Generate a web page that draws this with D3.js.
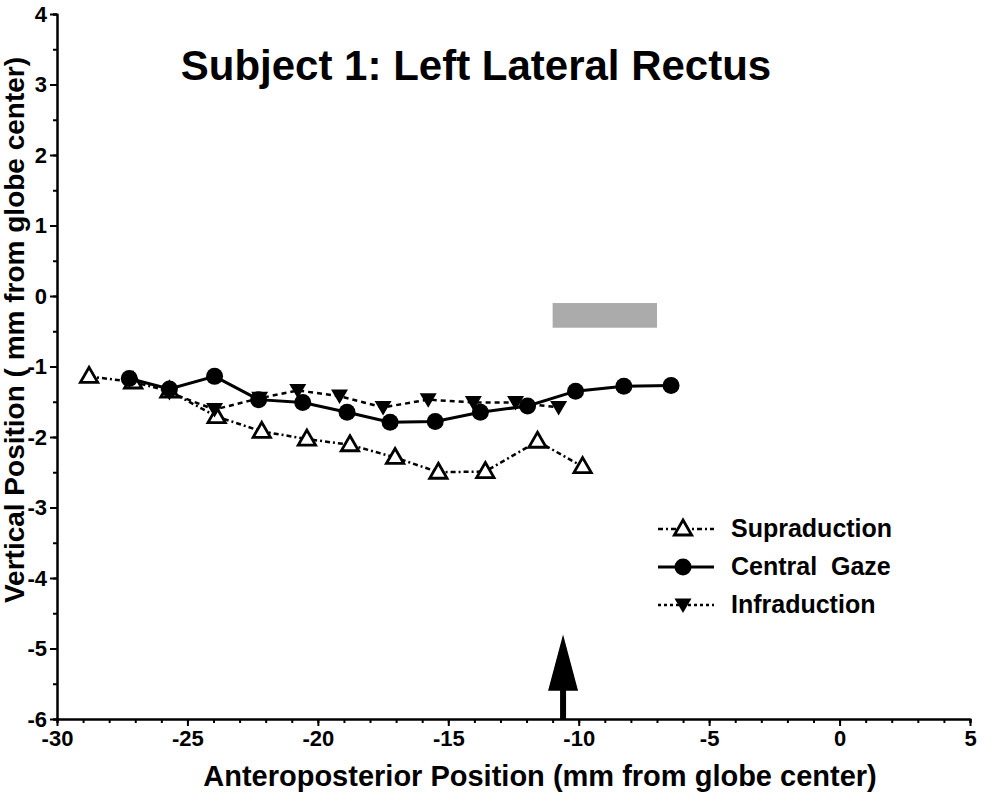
<!DOCTYPE html>
<html>
<head>
<meta charset="utf-8">
<script src="https://cdn.jsdelivr.net/npm/d3@7.9.0/dist/d3.min.js"></script>
<style>
  body { margin: 0; background: #fff; }
  svg { display: block; font-family: "Liberation Sans", Arial, sans-serif; }
  .axis path, .axis line { stroke: #000; stroke-width: 2; }
  .axis text { font-size: 22px !important; font-weight: bold; }
</style>
</head>
<body>
<svg id="chart" width="985" height="795"></svg>
<script>
// values (mm)
const supraX = [-28.77, -27.08, -25.69, -23.88, -22.15, -20.42, -18.77, -17.04, -15.38, -13.58, -11.58, -9.85];
const supraY = [-1.14, -1.22, -1.35, -1.71, -1.92, -2.03, -2.11, -2.29, -2.50, -2.49, -2.06, -2.42];

const centralX = [-27.23, -25.69, -23.96, -22.27, -20.58, -18.88, -17.23, -15.50, -13.77, -11.96, -10.12, -8.27, -6.46];
const centralY = [-1.17, -1.32, -1.14, -1.47, -1.51, -1.65, -1.79, -1.78, -1.65, -1.56, -1.35, -1.28, -1.27];

const infraX = [-25.69, -23.96, -22.23, -20.77, -19.17, -17.50, -15.77, -14.04, -12.42, -10.77];
const infraY = [-1.37, -1.61, -1.45, -1.34, -1.42, -1.58, -1.47, -1.51, -1.51, -1.58];

const xTicks = [-30, -25, -20, -15, -10, -5, 0, 5];
const yTicks = [-6, -5, -4, -3, -2, -1, 0, 1, 2, 3, 4];

// shaded band and arrow position
const bandX = [-11, -7];
const bandY = [-0.1, -0.45];
const arrowX = -10.6;

const svg = d3.select('#chart');

const x = d3.scaleLinear().domain([-30, 5]).range([57, 970]);
const y = d3.scaleLinear().domain([-6, 4]).range([719, 14]);

// plain hyphen as minus, like the original
const fmt = d => String(d);

// minor ticks first
svg.append('g')
  .attr('class', 'axis')
  .attr('transform', `translate(0,${y(-6)})`)
  .call(d3.axisBottom(x).tickValues(d3.range(-30, 5.01, 1)).tickSize(4).tickFormat(''));
svg.append('g')
  .attr('class', 'axis')
  .attr('transform', `translate(${x(-30)},0)`)
  .call(d3.axisLeft(y).tickValues(d3.range(-6, 4.01, 0.5)).tickSize(4).tickFormat(''));

const xAxis = svg.append('g')
  .attr('class', 'axis')
  .attr('transform', `translate(0,${y(-6)})`)
  .call(d3.axisBottom(x).tickValues(xTicks).tickFormat(fmt).tickSize(7).tickSizeOuter(0).tickPadding(4));

const yAxis = svg.append('g')
  .attr('class', 'axis')
  .attr('transform', `translate(${x(-30)},0)`)
  .call(d3.axisLeft(y).tickValues(yTicks).tickFormat(fmt).tickSize(7).tickSizeOuter(0).tickPadding(3));

[xAxis, yAxis].forEach(g => {
  g.attr('font-family', '"Liberation Sans", Arial, sans-serif').attr('font-size', 22);
  g.selectAll('text')
    .attr('font-size', 22)
    .attr('font-weight', 'bold')
    .attr('fill', '#000');
});

// shaded band
svg.append('rect')
  .attr('x', x(bandX[0]))
  .attr('y', y(bandY[0]))
  .attr('width', x(bandX[1]) - x(bandX[0]))
  .attr('height', y(bandY[1]) - y(bandY[0]))
  .attr('fill', '#ababab');

// arrow
const ax = x(arrowX);
svg.append('rect')
  .attr('x', ax - 3).attr('y', y(-5.4))
  .attr('width', 6).attr('height', y(-6) - y(-5.4))
  .attr('fill', '#000');
svg.append('path')
  .attr('d', `M${ax},${y(-4.8)} L${ax - 15},${y(-5.6)} L${ax + 15},${y(-5.6)} Z`)
  .attr('fill', '#000');

const line = d3.line().x(d => x(d[0])).y(d => y(d[1]));

const supra = d3.zip(supraX, supraY);
const central = d3.zip(centralX, centralY);
const infra = d3.zip(infraX, infraY);

const tri = d3.symbol().type(d3.symbolTriangle).size(130);
const triDown = 'M0,8 L-8.5,-6.5 L8.5,-6.5 Z';

// supraduction
svg.append('path').datum(supra)
  .attr('d', line).attr('fill', 'none').attr('stroke', '#000')
  .attr('stroke-width', 2.5).attr('stroke-dasharray', '5,3,2,3');
// infraduction
svg.append('path').datum(infra)
  .attr('d', line).attr('fill', 'none').attr('stroke', '#000')
  .attr('stroke-width', 2.5).attr('stroke-dasharray', '5,4');
// central gaze
svg.append('path').datum(central)
  .attr('d', line).attr('fill', 'none').attr('stroke', '#000')
  .attr('stroke-width', 3);

svg.selectAll('.supra').data(supra).join('path')
  .attr('transform', d => `translate(${x(d[0])},${y(d[1]) + 1})`)
  .attr('d', tri)
  .attr('fill', '#fff').attr('stroke', '#000').attr('stroke-width', 2.8);

svg.selectAll('.infra').data(infra).join('path')
  .attr('transform', d => `translate(${x(d[0])},${y(d[1])})`)
  .attr('d', triDown)
  .attr('fill', '#000');

svg.selectAll('.central').data(central).join('circle')
  .attr('cx', d => x(d[0])).attr('cy', d => y(d[1]))
  .attr('r', 8.5).attr('fill', '#000');

// legend
const legend = [
  { name: 'Supraduction', dash: '5,3,2,3', w: 2.5, mark: 'tri' },
  { name: 'Central  Gaze', dash: null, w: 3, mark: 'circle' },
  { name: 'Infraduction', dash: '3,3', w: 2.5, mark: 'down' }
];
const lg = svg.append('g');
legend.forEach((d, i) => {
  const ly = 529 + i * 38;
  lg.append('line')
    .attr('x1', 658).attr('x2', 714).attr('y1', ly).attr('y2', ly)
    .attr('stroke', '#000').attr('stroke-width', d.w)
    .attr('stroke-dasharray', d.dash);
  if (d.mark === 'tri') {
    lg.append('path').attr('transform', `translate(683,${ly + 1})`).attr('d', tri)
      .attr('fill', '#fff').attr('stroke', '#000').attr('stroke-width', 2.8);
  } else if (d.mark === 'circle') {
    lg.append('circle').attr('cx', 683).attr('cy', ly).attr('r', 8.5).attr('fill', '#000');
  } else {
    lg.append('path').attr('transform', `translate(683,${ly})`).attr('d', triDown).attr('fill', '#000');
  }
  lg.append('text')
    .attr('x', 731).attr('y', ly + 8)
    .attr('font-size', 25).attr('font-weight', 'bold')
    .style('white-space', 'pre')
    .text(d.name);
});

// title and axis labels
svg.append('text')
  .attr('x', 476).attr('y', 80)
  .attr('text-anchor', 'middle')
  .attr('font-size', 42).attr('font-weight', 'bold')
  .text('Subject 1: Left Lateral Rectus');

svg.append('text')
  .attr('x', 540).attr('y', 786)
  .attr('text-anchor', 'middle')
  .attr('font-size', 29).attr('font-weight', 'bold')
  .text('Anteroposterior Position (mm from globe center)');

svg.append('text')
  .attr('transform', 'translate(24,330) rotate(-90)')
  .attr('text-anchor', 'middle')
  .attr('font-size', 28).attr('font-weight', 'bold')
  .text('Vertical Position ( mm from globe center)');
</script>
</body>
</html>
